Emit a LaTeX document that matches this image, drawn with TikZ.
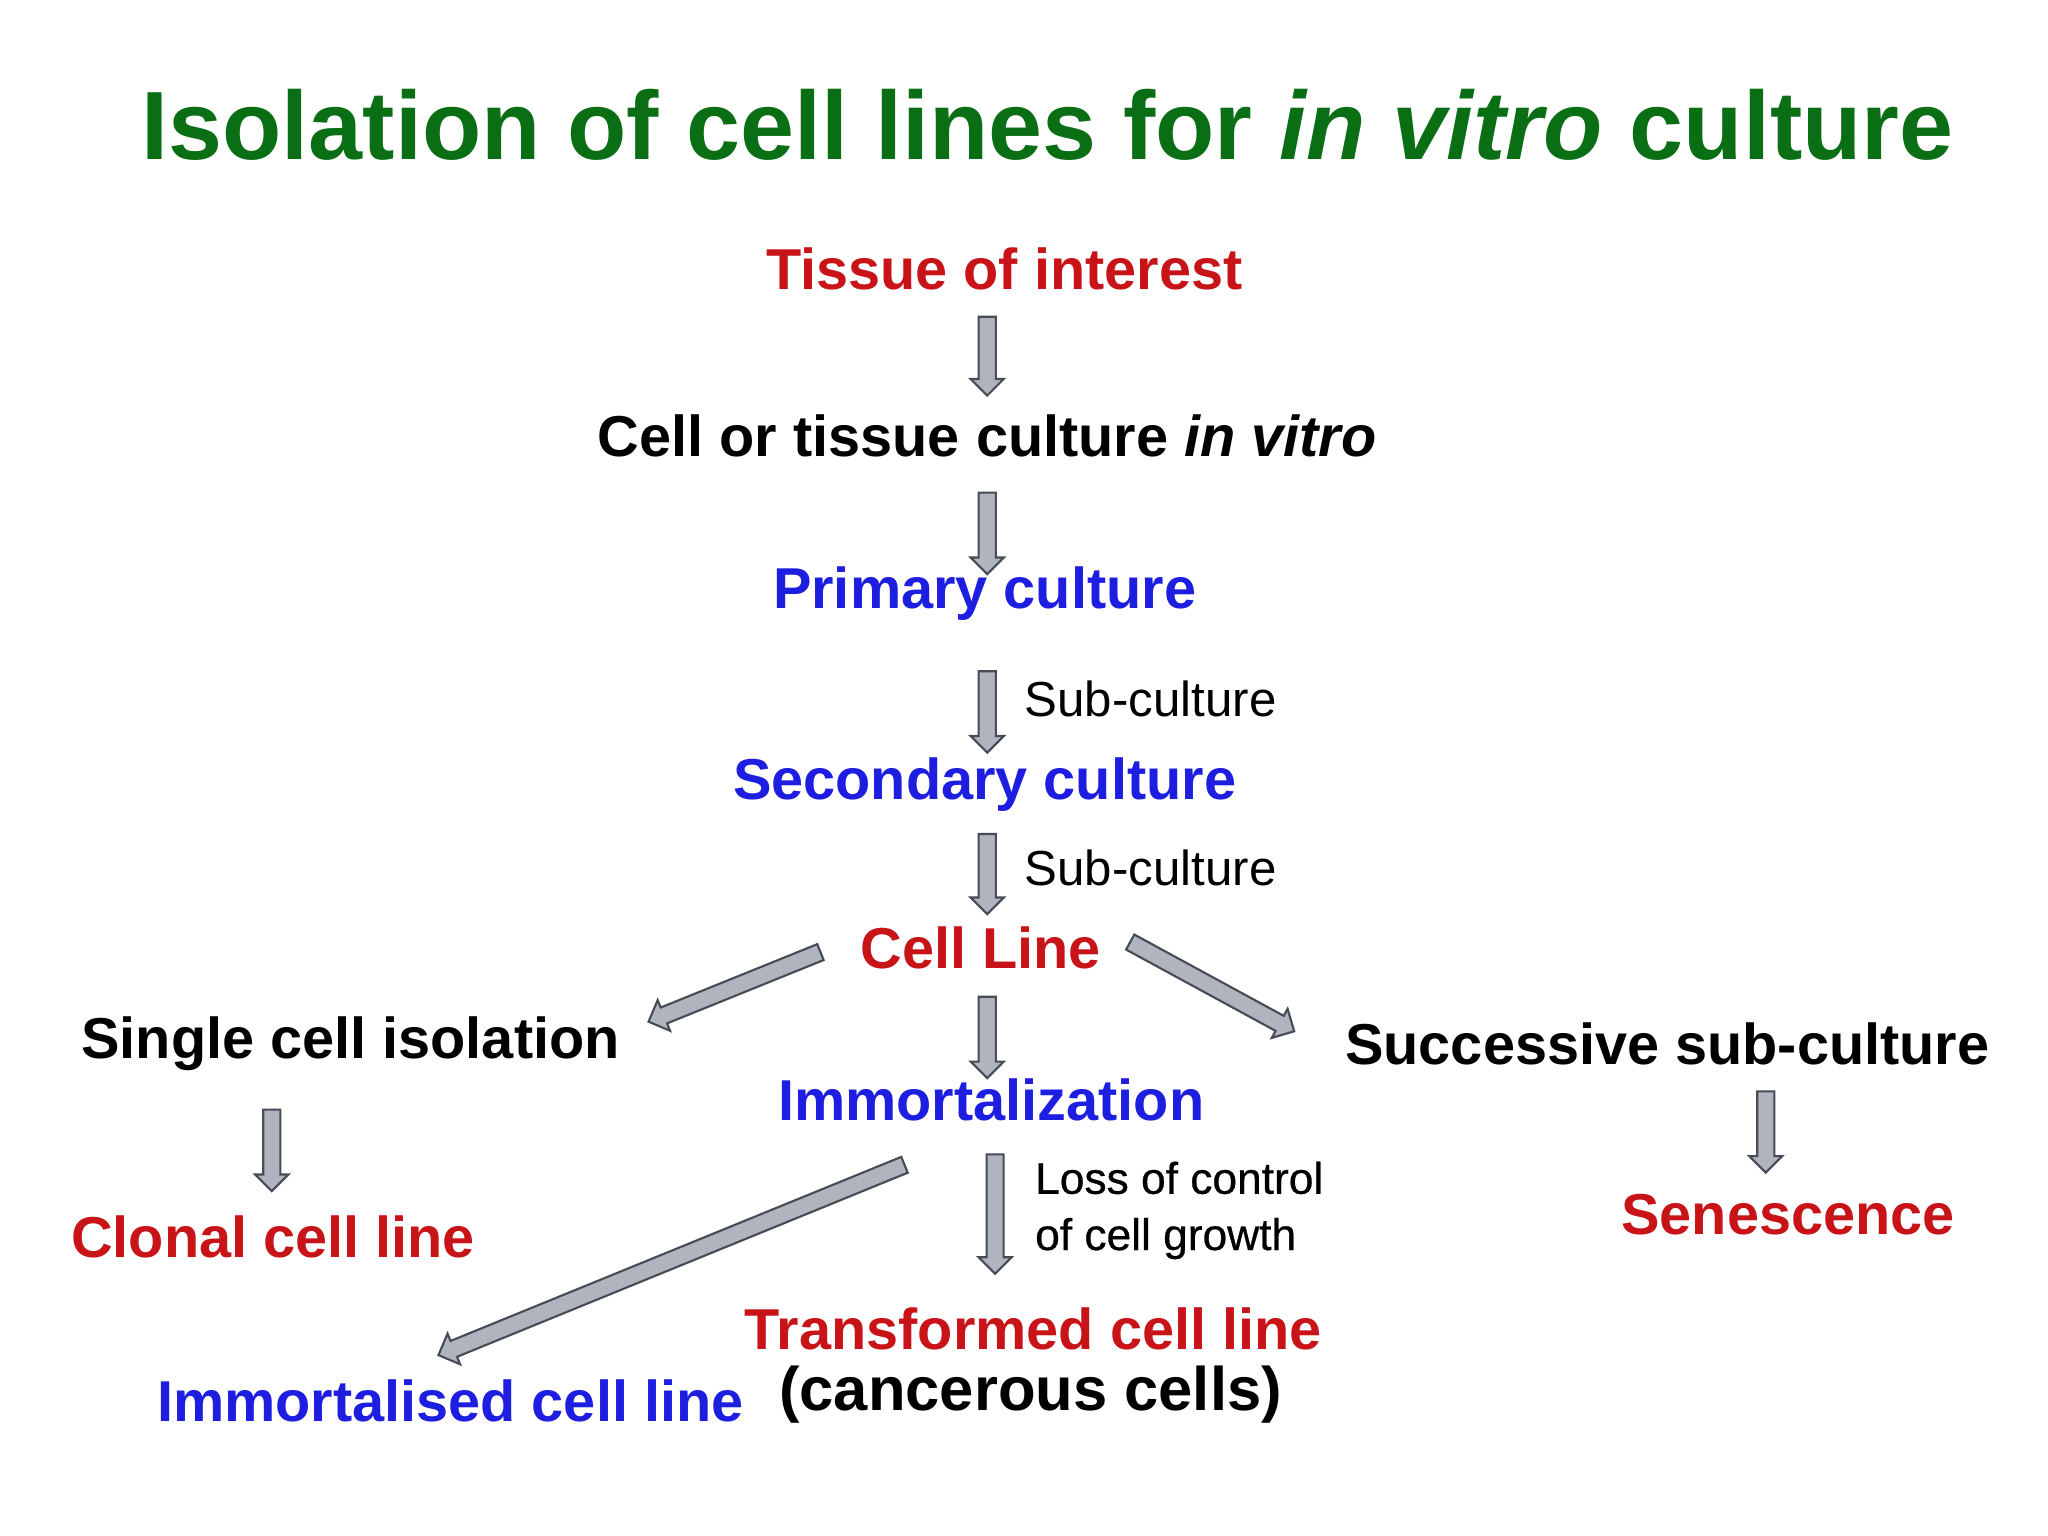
\documentclass[tikz,border=0pt]{standalone}
\usepackage{fontspec}
\setmainfont{Liberation Sans}
\usetikzlibrary{shapes.arrows,calc}
\definecolor{tgreen}{RGB}{10,110,20}
\definecolor{tred}{RGB}{200,20,25}
\definecolor{tblue}{RGB}{30,30,225}
\definecolor{agray}{RGB}{175,180,190}
\definecolor{aedge}{RGB}{70,75,85}
\tikzset{
  lbl/.style={font=\bfseries\fontsize{16.4}{19}\selectfont, inner sep=0pt},
  red/.style={lbl, text=tred},
  blue/.style={lbl, text=tblue},
  blk/.style={lbl, text=black},
  small/.style={font=\fontsize{14}{17}\selectfont, inner sep=0pt, anchor=west},
  arr/.style={single arrow, draw=aedge, fill=agray, line width=0.6pt, inner sep=0.075cm,
    single arrow head extend=0.08cm, single arrow head indent=0pt}
}
\newcommand{\barrow}[2]{%
  \path let \p1=(#1), \p2=(#2), \n1={atan2(\y2-\y1,\x2-\x1)}, \n2={veclen(\x2-\x1,\y2-\y1)} in
    node[arr, minimum height=\n2, rotate=\n1] at ($(#1)!0.5!(#2)$) {};}
\begin{document}
\begin{tikzpicture}[x=0.013128cm,y=-0.013128cm]
\useasboundingbox[fill=white] (0,0) rectangle (1560,1170);
\node[font=\bfseries\fontsize{27.6}{32}\selectfont, text=tgreen, inner sep=0pt] (title) at (798,95) {Isolation of cell lines for \textit{in vitro} culture};
\node[red] (tissue) at (765,205) {Tissue of interest};
\node[blk] (cell) at (752,332) {Cell or tissue culture \textit{in vitro}};
\node[blue] (prim) at (750,452) {Primary culture};
\node[blue] (sec) at (750,598) {Secondary culture};
\node[red] (line) at (747,722) {Cell Line};
\node[blk] (single) at (267,795) {Single cell isolation};
\node[blk] (succ) at (1270,795) {Successive sub-culture};
\node[blue] (imm) at (755,838) {Immortalization};
\node[red] (clonal) at (208,942) {Clonal cell line};
\node[red] (sen) at (1362,925) {Senescence};
\node[red] (trans) at (787,1012) {Transformed cell line};
\node[blue] (immline) at (343,1067) {Immortalised cell line};
\node[blk, font=\bfseries\fontsize{17.5}{20}\selectfont] (canc) at (785,1062) {(cancerous cells)};
\node[small] (sub1) at (780,532) {Sub-culture};
\node[small] (sub2) at (780,661) {Sub-culture};
\node[small, font=\fontsize{12.6}{15}\selectfont\addfontfeature{FakeBold=0.6}, align=left] (loss) at (788,922) {Loss of control\\[1pt]of cell growth};
\coordinate (a1s) at (752,238); \coordinate (a1e) at (752,298);
\coordinate (a2s) at (752,372); \coordinate (a2e) at (752,434);
\coordinate (a3s) at (752,508); \coordinate (a3e) at (752,570);
\coordinate (a4s) at (752,632); \coordinate (a4e) at (752,693);
\coordinate (a5s) at (628,724); \coordinate (a5e) at (497,777);
\coordinate (a6s) at (858,716); \coordinate (a6e) at (983,784);
\coordinate (a7s) at (752,756); \coordinate (a7e) at (752,818);
\coordinate (a8s) at (207,842); \coordinate (a8e) at (207,904);
\coordinate (a9s) at (1345,828); \coordinate (a9e) at (1345,890);
\coordinate (a10s) at (692,886); \coordinate (a10e) at (337,1031);
\coordinate (a11s) at (758,876); \coordinate (a11e) at (758,967);
\foreach \i in {1,...,11} {\barrow{a\i s}{a\i e}}
\end{tikzpicture}
\end{document}
